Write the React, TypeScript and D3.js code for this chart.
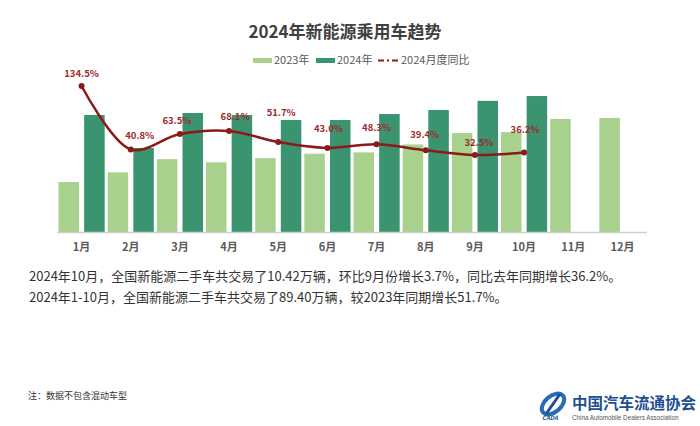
import { useMemo } from 'react';
import * as d3 from 'd3';

const months = ['1月', '2月', '3月', '4月', '5月', '6月', '7月', '8月', '9月', '10月', '11月', '12月'];
// 万辆
const sales2023 = [3.83, 4.57, 5.58, 5.34, 5.66, 6.0, 6.1, 6.71, 7.58, 7.65, 8.66, 8.74];
const sales2024 = [8.97, 6.44, 9.12, 8.97, 8.58, 8.58, 9.04, 9.35, 10.05, 10.42];
const yoy = [134.5, 40.8, 63.5, 68.1, 51.7, 43.0, 48.3, 39.4, 32.5, 36.2];
const yoyLabels = ['134.5%', '40.8%', '63.5%', '68.1%', '51.7%', '43.0%', '48.3%', '39.4%', '32.5%', '36.2%'];
const series = ['2023年', '2024年'];

// hand placed label nudges, like the original
const labelDx = [0, 9, -3, 6, 3, 1, 0, -1, 4, 1];
const labelDy = [-12, -13, -13, -13, -29, -18, -16, -15, -12, -22];

const summaryLines = [
  '2024年10月，全国新能源二手车共交易了10.42万辆，环比9月份增长3.7%，同比去年同期增长36.2%。',
  '2024年1-10月，全国新能源二手车共交易了89.40万辆，较2023年同期增长51.7%。',
];

const W = 700;
const H = 426;
const LIGHT = '#a9d18e';
const DARK = '#3a9470';
const RED = '#8b1a1a';
const FONT = '"Noto Sans CJK SC", "Noto Sans", sans-serif';

export default function App() {
  const baseY = 232;

  const x = useMemo(() => d3.scaleBand<string>().domain(months).range([57, 647]).padding(0), []);
  const inner = useMemo(
    () => d3.scaleBand<string>().domain(series).range([1.5, x.bandwidth() - 1.5]).paddingInner(0.2),
    [x]
  );
  const y = d3.scaleLinear().domain([0, 12]).range([baseY, 75.4]);
  const yPct = d3.scaleLinear().domain([0, 150]).range([177, 75.5]);

  const pts: [number, number][] = yoy.map((v, i) => [x(months[i])! + x.bandwidth() / 2, yPct(v)]);
  const line = d3.line().curve(d3.curveCatmullRom.alpha(0.5))(pts) || '';

  return (
    <div style={{ position: 'absolute', left: 0, top: 0 }}>
      <svg width={W} height={H} style={{ display: 'block', background: '#fff' }} fontFamily={FONT}>
        <text x={345} y={33} textAnchor="middle" dominantBaseline="middle" fontSize={17} fontWeight="bold" fill="#404040">
          2024年新能源乘用车趋势
        </text>

        {/* legend */}
        <g fontSize={11} fill="#595959">
          <rect x={253} y={58} width={19} height={5} fill={LIGHT} />
          <text x={274} y={61} dominantBaseline="middle">2023年</text>
          <rect x={316} y={58} width={19} height={5} fill={DARK} />
          <text x={337} y={61} dominantBaseline="middle">2024年</text>
          <line x1={378} x2={399} y1={60.5} y2={60.5} stroke={RED} strokeWidth={2} strokeDasharray="6 3 2 3" />
          <text x={401} y={61} dominantBaseline="middle">2024月度同比</text>
        </g>

        {/* bars */}
        {sales2023.map((v, i) => (
          <rect key={'a' + i} x={x(months[i])! + inner('2023年')!} y={y(v)} width={inner.bandwidth()} height={baseY - y(v)} fill={LIGHT} />
        ))}
        {sales2024.map((v, i) => (
          <rect key={'b' + i} x={x(months[i])! + inner('2024年')!} y={y(v)} width={inner.bandwidth()} height={baseY - y(v)} fill={DARK} />
        ))}

        <line x1={57} x2={647} y1={baseY + 0.5} y2={baseY + 0.5} stroke="#d0d0d0" strokeWidth={1.5} />

        {months.map((m) => (
          <text key={m} x={x(m)! + x.bandwidth() / 2} y={248} textAnchor="middle" dominantBaseline="middle" fontSize={11} fontWeight="bold" fill="#595959">
            {m}
          </text>
        ))}

        {/* yoy line */}
        <path d={line} fill="none" stroke={RED} strokeWidth={2.5} />
        {pts.map(([px, py], i) => (
          <g key={'p' + i}>
            <circle cx={px} cy={py} r={3} fill={RED} />
            <text x={px + labelDx[i]} y={py + labelDy[i]} textAnchor="middle" dominantBaseline="middle" fontSize={9.5} fontWeight="bold" fill="#a0282a">
              {yoyLabels[i]}
            </text>
          </g>
        ))}

        {/* summary text */}
        {summaryLines.map((t, i) => (
          <text key={'s' + i} x={29} y={277 + i * 21} dominantBaseline="middle" fontSize={13} fill="#333">
            {t}
          </text>
        ))}

        <text x={28} y={397} dominantBaseline="middle" fontSize={9} fill="#333">注：数据不包含混动车型</text>

        {/* logo */}
        <g>
          <ellipse cx={553} cy={404} rx={13} ry={8} fill="none" stroke="#2a6bb5" strokeWidth={4} transform="rotate(-40 553 404)" />
          <path d="M546,414 L560,394" stroke="#1d4f91" strokeWidth={3} />
          <text x={550} y={420} textAnchor="middle" fontSize={6} fontStyle="italic" fontWeight="bold" fill="#1d4f91">CADA</text>
          <text x={572} y={405} dominantBaseline="middle" fontSize={15.5} fontWeight="bold" fill="#1d4f91" fontFamily='"Noto Sans CJK SC", serif'>中国汽车流通协会</text>
          <text x={572} y={418.5} dominantBaseline="middle" fontSize={6.3} fill="#555" fontFamily='"Liberation Sans", sans-serif'>China Automobile Dealers Association</text>
        </g>
      </svg>
    </div>
  );
}
